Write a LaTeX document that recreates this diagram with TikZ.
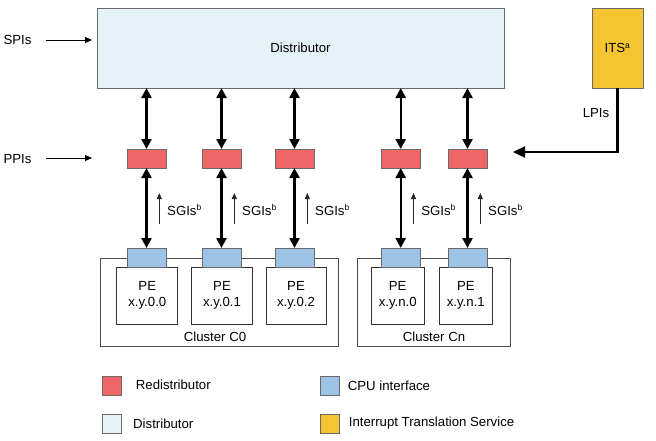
\documentclass[tikz,border=0pt]{standalone}
\usepackage{fontspec}
\setmainfont{Liberation Sans}
\usetikzlibrary{arrows.meta}
\definecolor{redist}{HTML}{F06666}
\definecolor{distc}{HTML}{E4F3F7}
\definecolor{cpuc}{HTML}{9DC3E6}
\definecolor{itsc}{HTML}{F4C431}
\definecolor{bord}{HTML}{6A6A6A}
\begin{document}
\begin{tikzpicture}[x=1pt,y=-1pt,
  font=\fontsize{13.2}{15.5}\selectfont,
  box/.style={draw=bord, line width=0.9pt, inner sep=0pt, outer sep=0pt},
  redbox/.style={box, fill=redist, minimum width=39pt, minimum height=19pt},
  cpubox/.style={box, fill=cpuc, minimum width=39pt, minimum height=19pt},
  pebox/.style={draw=black!80, line width=0.7pt, fill=white, inner sep=0pt, minimum height=57pt, align=center},
  clusterbox/.style={draw=black!70, line width=0.7pt, inner sep=0pt},
  legbox/.style={box, minimum width=19pt, minimum height=19pt},
  lbl/.style={inner sep=0pt},
  dbl/.style={line width=2.4pt, {Triangle[length=10pt,width=10pt]}-{Triangle[length=10pt,width=10pt]}},
  thin/.style={line width=0.9pt, -{Triangle[length=7pt,width=6pt]}},
  sgi/.style={line width=0.8pt, draw=black!85, -{Triangle[length=6pt,width=5pt]}},
  thick/.style={line width=2.4pt, -{Triangle[length=12pt,width=11pt]}}
]
\useasboundingbox[fill=white] (0,0) rectangle (656,440);

% Distributor and ITS
\node[box, fill=distc, minimum width=407pt, minimum height=80pt] (dist) at (300.5,48) {Distributor};
\node[box, fill=itsc, minimum width=51pt, minimum height=80pt] (its) at (617.5,48) {ITS\textsuperscript{\fontsize{8.5}{8.5}\selectfont a}};

% side labels
\node[lbl] (spi) at (17.5,40) {SPIs};
\node[lbl] (ppi) at (17.5,159) {PPIs};
\coordinate (spiA) at (46,40);
\coordinate (spiB) at (92,40);
\coordinate (ppiA) at (46,158);
\coordinate (ppiB) at (92,158);
\draw[thin] (spiA) -- (spiB);
\draw[thin] (ppiA) -- (ppiB);

% Clusters
\node[clusterbox, minimum width=237.6pt, minimum height=88.7pt] (c0) at (219.5,302.35) {};
\node[clusterbox, minimum width=153.4pt, minimum height=88.7pt] (cn) at (434,302.35) {};
\node[lbl] (c0l) at (215,337) {Cluster C0};
\node[lbl] (cnl) at (434,337) {Cluster Cn};

% PEs
\node[pebox, minimum width=61pt] (pe1) at (147.3,295.5) {PE\\[1pt]x.y.0.0};
\node[pebox, minimum width=60.6pt] (pe2) at (222,295.5) {PE\\[1pt]x.y.0.1};
\node[pebox, minimum width=60pt] (pe3) at (296,295.5) {PE\\[1pt]x.y.0.2};
\node[pebox, minimum width=53.3pt] (pe4) at (397.7,295.5) {PE\\[1pt]x.y.n.0};
\node[pebox, minimum width=53.7pt] (pe5) at (465.8,295.5) {PE\\[1pt]x.y.n.1};

% Redistributors and CPU interfaces
\foreach \i/\x in {1/146.5, 2/221.5, 3/294.5, 4/400.7, 5/467.5}{
  \node[redbox] (r\i) at (\x,158.5) {};
  \node[cpubox] (c\i) at (\x,257.5) {};
  \draw[dbl] (dist.south -| r\i) -- (r\i.north);
  \draw[dbl] (r\i.south) -- (c\i.north);
  \coordinate (s\i a) at (\x+12.8,224);
  \coordinate (s\i b) at (\x+12.8,193);
  \draw[sgi] (s\i a) -- (s\i b);
  \node[lbl, anchor=west] (sl\i) at (\x+20.5,210) {SGIs\textsuperscript{\fontsize{8.5}{8.5}\selectfont b}};
}

% LPIs
\coordinate (lpiEnd) at (513,152);
\draw[thick] (its.south) -- (its.south |- lpiEnd) -- (lpiEnd);
\node[lbl] (lpil) at (596,113) {LPIs};

% Legend
\node[legbox, fill=redist] (lg1) at (112,385.5) {};
\node[lbl, anchor=west] (lt1) at (135.7,385) {Redistributor};
\node[legbox, fill=distc] (lg2) at (112,423.5) {};
\node[lbl, anchor=west] (lt2) at (133,423.5) {Distributor};
\node[legbox, fill=cpuc] (lg3) at (329.5,385.5) {};
\node[lbl, anchor=west] (lt3) at (347.7,386) {CPU interface};
\node[legbox, fill=itsc] (lg4) at (329.5,423.5) {};
\node[lbl, anchor=west] (lt4) at (348.7,423.5) {Interrupt Translation Service};
\end{tikzpicture}
\end{document}
